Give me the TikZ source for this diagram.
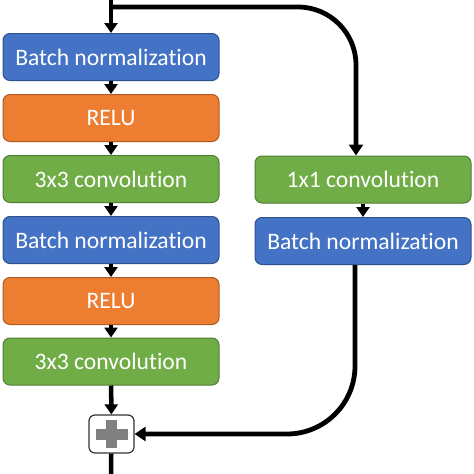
\documentclass[tikz,border=0pt]{standalone}
\usepackage{fontspec}
\setmainfont{Carlito}[Ligatures={NoCommon}]
\usetikzlibrary{arrows.meta}
\definecolor{cblue}{HTML}{4472C4}
\definecolor{cblueb}{HTML}{2F528F}
\definecolor{corange}{HTML}{ED7D31}
\definecolor{coranb}{HTML}{AE5A21}
\definecolor{cgreen}{HTML}{70AD47}
\definecolor{cgreenb}{HTML}{507E32}
\tikzset{
  blk/.style={rounded corners=7pt, minimum width=216pt, minimum height=47pt, line width=1pt,
    text=white, font=\fontsize{23.6}{28}\selectfont, inner sep=0pt},
  bn/.style={blk, fill=cblue, draw=cblueb},
  relu/.style={blk, fill=corange, draw=coranb},
  conv/.style={blk, fill=cgreen, draw=cgreenb},
  flow/.style={line width=4.5pt, -{Triangle[width=13pt,length=10pt]}},
  wide/.style={line width=4.8pt, -{Triangle[width=14pt,length=11pt]}},
  plain/.style={line width=4.5pt},
}
\begin{document}
\begin{tikzpicture}[x=1pt,y=-1pt]
\useasboundingbox (0,0) rectangle (474,474);
\node[bn]   (b1) at (111,57)    {Batch normalization};
\node[relu] (b2) at (111,118)   {RELU};
\node[conv] (b3) at (111,179)   {3x3 convolution};
\node[bn]   (b4) at (111,240)   {Batch normalization};
\node[relu] (b5) at (111,301)   {RELU};
\node[conv] (b6) at (111,361.5) {3x3 convolution};
\node[conv] (rA) at (363,179.5) {1x1 convolution};
\node[bn]   (rB) at (363,241)   {Batch normalization};
\node[draw=black!80, fill=white, rounded corners=6pt, line width=1.2pt,
      minimum width=45pt, minimum height=38pt, inner sep=0pt] (plus) at (111.5,434) {};
\fill[black!50] ([xshift=-16pt,yshift=-5.5pt]plus.center) rectangle ([xshift=16pt,yshift=5.5pt]plus.center);
\fill[black!50] ([xshift=-5.5pt,yshift=-14pt]plus.center) rectangle ([xshift=5.5pt,yshift=14pt]plus.center);
\coordinate (top) at (111,0);
\coordinate (br) at (111,7);
\coordinate (bot) at (111,474);
\draw[flow] (top) -- (b1);
\draw[flow] (b1) -- (b2);
\draw[flow] (b2) -- (b3);
\draw[flow] (b3) -- (b4);
\draw[flow] (b4) -- (b5);
\draw[flow] (b5) -- (b6);
\draw[flow] (b6) -- (plus);
\draw[flow] (rA) -- (rB);
\draw[plain] (plus) -- (bot);
\draw[wide, rounded corners=58pt] (br) -| ([xshift=-7pt]rA.north);
\draw[wide, rounded corners=68pt] ([xshift=-8pt]rB.south) |- (plus.east);
\end{tikzpicture}
\end{document}
